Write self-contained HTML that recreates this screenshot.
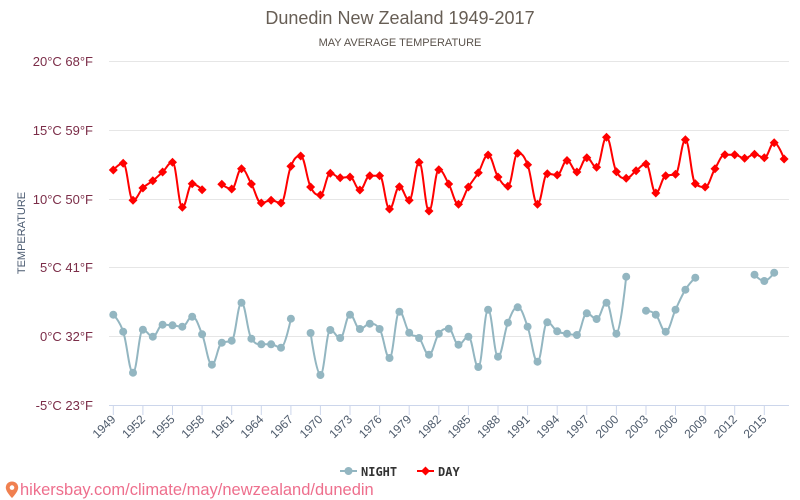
<!DOCTYPE html>
<html>
<head>
<meta charset="utf-8">
<style>
html,body{margin:0;padding:0;background:#fff;}
body{width:800px;height:500px;overflow:hidden;}
svg{display:block;font-family:"Liberation Sans",sans-serif;}
</style>
</head>
<body>
<svg id="chart" width="800" height="500" viewBox="0 0 800 500" xmlns="http://www.w3.org/2000/svg">
<rect x="0" y="0" width="800" height="500" fill="#fff"/>
<text x="400" y="24" text-anchor="middle" font-size="18" fill="#675e55">Dunedin New Zealand 1949-2017</text>
<text x="400" y="46" text-anchor="middle" font-size="11" fill="#5a524b">MAY AVERAGE TEMPERATURE</text>

<g stroke="#e6e6e6" stroke-width="1">
<line x1="109" y1="61.5" x2="789" y2="61.5"/>
<line x1="109" y1="130.5" x2="789" y2="130.5"/>
<line x1="109" y1="199.5" x2="789" y2="199.5"/>
<line x1="109" y1="267.5" x2="789" y2="267.5"/>
<line x1="109" y1="336.5" x2="789" y2="336.5"/>
</g>
<line x1="109" y1="405.5" x2="789" y2="405.5" stroke="#ccd6eb" stroke-width="1"/>

<g font-size="13" fill="#7b2d48" text-anchor="end">
<text x="93" y="66">20°C 68°F</text>
<text x="93" y="135">15°C 59°F</text>
<text x="93" y="204">10°C 50°F</text>
<text x="93" y="272">5°C 41°F</text>
<text x="93" y="341">0°C 32°F</text>
<text x="93" y="410">-5°C 23°F</text>
</g>
<text transform="translate(25,233) rotate(-90)" text-anchor="middle" font-size="11" fill="#4a5a70">TEMPERATURE</text>

<g stroke="#ccd6eb" stroke-width="1">
<line x1="113.3" y1="405" x2="113.3" y2="415"/>
<line x1="142.9" y1="405" x2="142.9" y2="415"/>
<line x1="172.5" y1="405" x2="172.5" y2="415"/>
<line x1="202.1" y1="405" x2="202.1" y2="415"/>
<line x1="231.7" y1="405" x2="231.7" y2="415"/>
<line x1="261.3" y1="405" x2="261.3" y2="415"/>
<line x1="290.9" y1="405" x2="290.9" y2="415"/>
<line x1="320.4" y1="405" x2="320.4" y2="415"/>
<line x1="350.0" y1="405" x2="350.0" y2="415"/>
<line x1="379.6" y1="405" x2="379.6" y2="415"/>
<line x1="409.2" y1="405" x2="409.2" y2="415"/>
<line x1="438.8" y1="405" x2="438.8" y2="415"/>
<line x1="468.4" y1="405" x2="468.4" y2="415"/>
<line x1="498.0" y1="405" x2="498.0" y2="415"/>
<line x1="527.6" y1="405" x2="527.6" y2="415"/>
<line x1="557.2" y1="405" x2="557.2" y2="415"/>
<line x1="586.8" y1="405" x2="586.8" y2="415"/>
<line x1="616.4" y1="405" x2="616.4" y2="415"/>
<line x1="646.0" y1="405" x2="646.0" y2="415"/>
<line x1="675.5" y1="405" x2="675.5" y2="415"/>
<line x1="705.1" y1="405" x2="705.1" y2="415"/>
<line x1="734.7" y1="405" x2="734.7" y2="415"/>
<line x1="764.3" y1="405" x2="764.3" y2="415"/>
</g>

<g font-size="12" fill="#4d5a6b" text-anchor="end">
<text x="116.3" y="420" transform="rotate(-45 116.3 420)">1949</text>
<text x="145.9" y="420" transform="rotate(-45 145.9 420)">1952</text>
<text x="175.5" y="420" transform="rotate(-45 175.5 420)">1955</text>
<text x="205.1" y="420" transform="rotate(-45 205.1 420)">1958</text>
<text x="234.7" y="420" transform="rotate(-45 234.7 420)">1961</text>
<text x="264.3" y="420" transform="rotate(-45 264.3 420)">1964</text>
<text x="293.9" y="420" transform="rotate(-45 293.9 420)">1967</text>
<text x="323.4" y="420" transform="rotate(-45 323.4 420)">1970</text>
<text x="353.0" y="420" transform="rotate(-45 353.0 420)">1973</text>
<text x="382.6" y="420" transform="rotate(-45 382.6 420)">1976</text>
<text x="412.2" y="420" transform="rotate(-45 412.2 420)">1979</text>
<text x="441.8" y="420" transform="rotate(-45 441.8 420)">1982</text>
<text x="471.4" y="420" transform="rotate(-45 471.4 420)">1985</text>
<text x="501.0" y="420" transform="rotate(-45 501.0 420)">1988</text>
<text x="530.6" y="420" transform="rotate(-45 530.6 420)">1991</text>
<text x="560.2" y="420" transform="rotate(-45 560.2 420)">1994</text>
<text x="589.8" y="420" transform="rotate(-45 589.8 420)">1997</text>
<text x="619.4" y="420" transform="rotate(-45 619.4 420)">2000</text>
<text x="649.0" y="420" transform="rotate(-45 649.0 420)">2003</text>
<text x="678.5" y="420" transform="rotate(-45 678.5 420)">2006</text>
<text x="708.1" y="420" transform="rotate(-45 708.1 420)">2009</text>
<text x="737.7" y="420" transform="rotate(-45 737.7 420)">2012</text>
<text x="767.3" y="420" transform="rotate(-45 767.3 420)">2015</text>
</g>

<!-- NIGHT series -->
<g id="night" fill="none" stroke="#93b6c1" stroke-width="2" stroke-linejoin="round" stroke-linecap="round">
<polyline class="sp" points="113.3,314.7 123.2,331.7 133.0,372.7 142.9,329.7 152.8,336.7 162.6,324.7 172.5,325.3 182.3,326.7 192.2,316.7 202.1,334.3 211.9,364.7 221.8,342.7 231.7,340.7 241.5,302.7 251.4,338.7 261.3,344.3 271.1,344.3 281.0,347.7 290.9,318.7"/>
<polyline class="sp" points="310.6,333 320.4,375 330.3,330 340.2,338 350.0,314.7 359.9,329 369.8,323.7 379.6,329 389.5,358 399.4,311.7 409.2,332.7 419.1,338 429.0,354.7 438.8,333.7 448.7,328.7 458.5,344.7 468.4,336.7 478.3,367 488.1,309.7 498.0,356.7 507.9,322.7 517.7,307.3 527.6,326.7 537.5,361.7 547.3,322.3 557.2,331.3 567.0,333.7 576.9,335 586.8,313.3 596.6,319 606.5,302.7 616.4,333.7 626.2,276.7"/>
<polyline class="sp" points="646.0,310.7 655.8,314.7 665.7,331.7 675.5,309.7 685.4,289.7 695.3,277.7"/>
<polyline class="sp" points="754.5,274.7 764.3,281 774.2,272.7"/>
</g>
<g fill="#93b6c1">
<circle cx="113.3" cy="314.7" r="4"/><circle cx="123.2" cy="331.7" r="4"/><circle cx="133.0" cy="372.7" r="4"/><circle cx="142.9" cy="329.7" r="4"/><circle cx="152.8" cy="336.7" r="4"/><circle cx="162.6" cy="324.7" r="4"/><circle cx="172.5" cy="325.3" r="4"/><circle cx="182.3" cy="326.7" r="4"/><circle cx="192.2" cy="316.7" r="4"/><circle cx="202.1" cy="334.3" r="4"/><circle cx="211.9" cy="364.7" r="4"/><circle cx="221.8" cy="342.7" r="4"/><circle cx="231.7" cy="340.7" r="4"/><circle cx="241.5" cy="302.7" r="4"/><circle cx="251.4" cy="338.7" r="4"/><circle cx="261.3" cy="344.3" r="4"/><circle cx="271.1" cy="344.3" r="4"/><circle cx="281.0" cy="347.7" r="4"/><circle cx="290.9" cy="318.7" r="4"/>
<circle cx="310.6" cy="333" r="4"/><circle cx="320.4" cy="375" r="4"/><circle cx="330.3" cy="330" r="4"/><circle cx="340.2" cy="338" r="4"/><circle cx="350.0" cy="314.7" r="4"/><circle cx="359.9" cy="329" r="4"/><circle cx="369.8" cy="323.7" r="4"/><circle cx="379.6" cy="329" r="4"/><circle cx="389.5" cy="358" r="4"/><circle cx="399.4" cy="311.7" r="4"/><circle cx="409.2" cy="332.7" r="4"/><circle cx="419.1" cy="338" r="4"/><circle cx="429.0" cy="354.7" r="4"/><circle cx="438.8" cy="333.7" r="4"/><circle cx="448.7" cy="328.7" r="4"/><circle cx="458.5" cy="344.7" r="4"/><circle cx="468.4" cy="336.7" r="4"/><circle cx="478.3" cy="367" r="4"/><circle cx="488.1" cy="309.7" r="4"/><circle cx="498.0" cy="356.7" r="4"/><circle cx="507.9" cy="322.7" r="4"/><circle cx="517.7" cy="307.3" r="4"/><circle cx="527.6" cy="326.7" r="4"/><circle cx="537.5" cy="361.7" r="4"/><circle cx="547.3" cy="322.3" r="4"/><circle cx="557.2" cy="331.3" r="4"/><circle cx="567.0" cy="333.7" r="4"/><circle cx="576.9" cy="335" r="4"/><circle cx="586.8" cy="313.3" r="4"/><circle cx="596.6" cy="319" r="4"/><circle cx="606.5" cy="302.7" r="4"/><circle cx="616.4" cy="333.7" r="4"/><circle cx="626.2" cy="276.7" r="4"/>
<circle cx="646.0" cy="310.7" r="4"/><circle cx="655.8" cy="314.7" r="4"/><circle cx="665.7" cy="331.7" r="4"/><circle cx="675.5" cy="309.7" r="4"/><circle cx="685.4" cy="289.7" r="4"/><circle cx="695.3" cy="277.7" r="4"/>
<circle cx="754.5" cy="274.7" r="4"/><circle cx="764.3" cy="281" r="4"/><circle cx="774.2" cy="272.7" r="4"/>
</g>

<!-- DAY series -->
<g id="day" fill="none" stroke="#ff0000" stroke-width="2" stroke-linejoin="round" stroke-linecap="round">
<polyline class="sp" points="113.3,170 123.2,163.3 133.0,200.3 142.9,188 152.8,180.7 162.6,172 172.5,162.3 182.3,207.3 192.2,183.7 202.1,189.7"/>
<polyline class="sp" points="221.8,184.3 231.7,189 241.5,168.7 251.4,184 261.3,203 271.1,200.3 281.0,203 290.9,166.3 300.7,156 310.6,187 320.4,195 330.3,173.3 340.2,177.7 350.0,177 359.9,190 369.8,175.7 379.6,175.7 389.5,209 399.4,186.7 409.2,200.3 419.1,162.3 429.0,211 438.8,169.7 448.7,184 458.5,204.3 468.4,187 478.3,172.7 488.1,155 498.0,177 507.9,186.3 517.7,153.3 527.6,164.7 537.5,204.3 547.3,173.7 557.2,175 567.0,160.5 576.9,172 586.8,157.7 596.6,167.3 606.5,137.3 616.4,171.7 626.2,178.3 636.1,170.7 646.0,164 655.8,193 665.7,175.7 675.5,174.3 685.4,139.7 695.3,183.7 705.1,187 715.0,168.7 724.9,154.7 734.7,154.7 744.6,158.3 754.5,154.3 764.3,157.7 774.2,142.7 784.1,159"/>
</g>
<path fill="#ff0000" d="M113.3 165.5l4.5 4.5l-4.5 4.5l-4.5 -4.5z M123.2 158.8l4.5 4.5l-4.5 4.5l-4.5 -4.5z M133.0 195.8l4.5 4.5l-4.5 4.5l-4.5 -4.5z M142.9 183.5l4.5 4.5l-4.5 4.5l-4.5 -4.5z M152.8 176.2l4.5 4.5l-4.5 4.5l-4.5 -4.5z M162.6 167.5l4.5 4.5l-4.5 4.5l-4.5 -4.5z M172.5 157.8l4.5 4.5l-4.5 4.5l-4.5 -4.5z M182.3 202.8l4.5 4.5l-4.5 4.5l-4.5 -4.5z M192.2 179.2l4.5 4.5l-4.5 4.5l-4.5 -4.5z M202.1 185.2l4.5 4.5l-4.5 4.5l-4.5 -4.5z
M221.8 179.8l4.5 4.5l-4.5 4.5l-4.5 -4.5z M231.7 184.5l4.5 4.5l-4.5 4.5l-4.5 -4.5z M241.5 164.2l4.5 4.5l-4.5 4.5l-4.5 -4.5z M251.4 179.5l4.5 4.5l-4.5 4.5l-4.5 -4.5z M261.3 198.5l4.5 4.5l-4.5 4.5l-4.5 -4.5z M271.1 195.8l4.5 4.5l-4.5 4.5l-4.5 -4.5z M281.0 198.5l4.5 4.5l-4.5 4.5l-4.5 -4.5z M290.9 161.8l4.5 4.5l-4.5 4.5l-4.5 -4.5z M300.7 151.5l4.5 4.5l-4.5 4.5l-4.5 -4.5z M310.6 182.5l4.5 4.5l-4.5 4.5l-4.5 -4.5z M320.4 190.5l4.5 4.5l-4.5 4.5l-4.5 -4.5z M330.3 168.8l4.5 4.5l-4.5 4.5l-4.5 -4.5z M340.2 173.2l4.5 4.5l-4.5 4.5l-4.5 -4.5z M350.0 172.5l4.5 4.5l-4.5 4.5l-4.5 -4.5z M359.9 185.5l4.5 4.5l-4.5 4.5l-4.5 -4.5z M369.8 171.2l4.5 4.5l-4.5 4.5l-4.5 -4.5z M379.6 171.2l4.5 4.5l-4.5 4.5l-4.5 -4.5z M389.5 204.5l4.5 4.5l-4.5 4.5l-4.5 -4.5z M399.4 182.2l4.5 4.5l-4.5 4.5l-4.5 -4.5z M409.2 195.8l4.5 4.5l-4.5 4.5l-4.5 -4.5z M419.1 157.8l4.5 4.5l-4.5 4.5l-4.5 -4.5z M429.0 206.5l4.5 4.5l-4.5 4.5l-4.5 -4.5z M438.8 165.2l4.5 4.5l-4.5 4.5l-4.5 -4.5z M448.7 179.5l4.5 4.5l-4.5 4.5l-4.5 -4.5z M458.5 199.8l4.5 4.5l-4.5 4.5l-4.5 -4.5z M468.4 182.5l4.5 4.5l-4.5 4.5l-4.5 -4.5z M478.3 168.2l4.5 4.5l-4.5 4.5l-4.5 -4.5z M488.1 150.5l4.5 4.5l-4.5 4.5l-4.5 -4.5z M498.0 172.5l4.5 4.5l-4.5 4.5l-4.5 -4.5z M507.9 181.8l4.5 4.5l-4.5 4.5l-4.5 -4.5z M517.7 148.8l4.5 4.5l-4.5 4.5l-4.5 -4.5z M527.6 160.2l4.5 4.5l-4.5 4.5l-4.5 -4.5z M537.5 199.8l4.5 4.5l-4.5 4.5l-4.5 -4.5z M547.3 169.2l4.5 4.5l-4.5 4.5l-4.5 -4.5z M557.2 170.5l4.5 4.5l-4.5 4.5l-4.5 -4.5z M567.0 156.0l4.5 4.5l-4.5 4.5l-4.5 -4.5z M576.9 167.5l4.5 4.5l-4.5 4.5l-4.5 -4.5z M586.8 153.2l4.5 4.5l-4.5 4.5l-4.5 -4.5z M596.6 162.8l4.5 4.5l-4.5 4.5l-4.5 -4.5z M606.5 132.8l4.5 4.5l-4.5 4.5l-4.5 -4.5z M616.4 167.2l4.5 4.5l-4.5 4.5l-4.5 -4.5z M626.2 173.8l4.5 4.5l-4.5 4.5l-4.5 -4.5z M636.1 166.2l4.5 4.5l-4.5 4.5l-4.5 -4.5z M646.0 159.5l4.5 4.5l-4.5 4.5l-4.5 -4.5z M655.8 188.5l4.5 4.5l-4.5 4.5l-4.5 -4.5z M665.7 171.2l4.5 4.5l-4.5 4.5l-4.5 -4.5z M675.5 169.8l4.5 4.5l-4.5 4.5l-4.5 -4.5z M685.4 135.2l4.5 4.5l-4.5 4.5l-4.5 -4.5z M695.3 179.2l4.5 4.5l-4.5 4.5l-4.5 -4.5z M705.1 182.5l4.5 4.5l-4.5 4.5l-4.5 -4.5z M715.0 164.2l4.5 4.5l-4.5 4.5l-4.5 -4.5z M724.9 150.2l4.5 4.5l-4.5 4.5l-4.5 -4.5z M734.7 150.2l4.5 4.5l-4.5 4.5l-4.5 -4.5z M744.6 153.8l4.5 4.5l-4.5 4.5l-4.5 -4.5z M754.5 149.8l4.5 4.5l-4.5 4.5l-4.5 -4.5z M764.3 153.2l4.5 4.5l-4.5 4.5l-4.5 -4.5z M774.2 138.2l4.5 4.5l-4.5 4.5l-4.5 -4.5z M784.1 154.5l4.5 4.5l-4.5 4.5l-4.5 -4.5z"/>

<!-- Legend -->
<line x1="340" y1="471" x2="357" y2="471" stroke="#93b6c1" stroke-width="2"/>
<circle cx="348.5" cy="471" r="4" fill="#93b6c1"/>
<text x="361" y="476" font-family="'DejaVu Sans Mono','Liberation Mono',monospace" font-weight="bold" font-size="12" fill="#333">NIGHT</text>
<line x1="417" y1="471" x2="434" y2="471" stroke="#ff0000" stroke-width="2"/>
<path d="M425.5 466.5l4.5 4.5l-4.5 4.5l-4.5 -4.5z" fill="#ff0000"/>
<text x="438" y="476" font-family="'DejaVu Sans Mono','Liberation Mono',monospace" font-weight="bold" font-size="12" fill="#333">DAY</text>

<!-- Watermark -->
<path d="M12 481.5c-3.6 0-6.2 2.7-6.2 6.1c0 4.3 6.2 10.4 6.2 10.4s6.2-6.1 6.2-10.4c0-3.4-2.6-6.1-6.2-6.1z" fill="#f08050"/>
<circle cx="12" cy="487.6" r="2.3" fill="#fff"/>
<text x="20" y="495" font-size="16.5" fill="#ee6f8d">hikersbay.com/climate/may/newzealand/dunedin</text>
</svg>
<script>
(function(){
  var NS="http://www.w3.org/2000/svg";
  var pls=document.querySelectorAll("polyline.sp");
  for(var k=0;k<pls.length;k++){
    var pl=pls[k];
    var raw=pl.getAttribute("points").trim().split(/\s+/);
    var p=raw.map(function(s){var a=s.split(",");return {x:+a[0],y:+a[1]};});
    var n=p.length, sm=1.5, den=sm+1;
    for(var i=0;i<n;i++){
      var c=p[i]; c.lx=c.x;c.ly=c.y;c.rx=c.x;c.ry=c.y;
      if(i>0&&i<n-1){
        var a=p[i-1], b=p[i+1];
        var lx=(sm*c.x+a.x)/den, ly=(sm*c.y+a.y)/den;
        var rx=(sm*c.x+b.x)/den, ry=(sm*c.y+b.y)/den;
        var corr=((ry-ly)*(rx-c.x))/(rx-lx)+c.y-ry;
        ly+=corr; ry+=corr;
        if(ly>a.y&&ly>c.y){ly=Math.max(a.y,c.y);ry=2*c.y-ly;}
        else if(ly<a.y&&ly<c.y){ly=Math.min(a.y,c.y);ry=2*c.y-ly;}
        if(ry>b.y&&ry>c.y){ry=Math.max(b.y,c.y);ly=2*c.y-ry;}
        else if(ry<b.y&&ry<c.y){ry=Math.min(b.y,c.y);ly=2*c.y-ry;}
        c.lx=lx;c.ly=ly;c.rx=rx;c.ry=ry;
      }
    }
    var d="M"+p[0].x+" "+p[0].y;
    for(var j=1;j<n;j++){
      d+=" C"+p[j-1].rx.toFixed(2)+" "+p[j-1].ry.toFixed(2)+" "+p[j].lx.toFixed(2)+" "+p[j].ly.toFixed(2)+" "+p[j].x+" "+p[j].y;
    }
    var path=document.createElementNS(NS,"path");
    path.setAttribute("d",d);
    pl.parentNode.replaceChild(path,pl);
  }
})();
</script>
</body>
</html>
